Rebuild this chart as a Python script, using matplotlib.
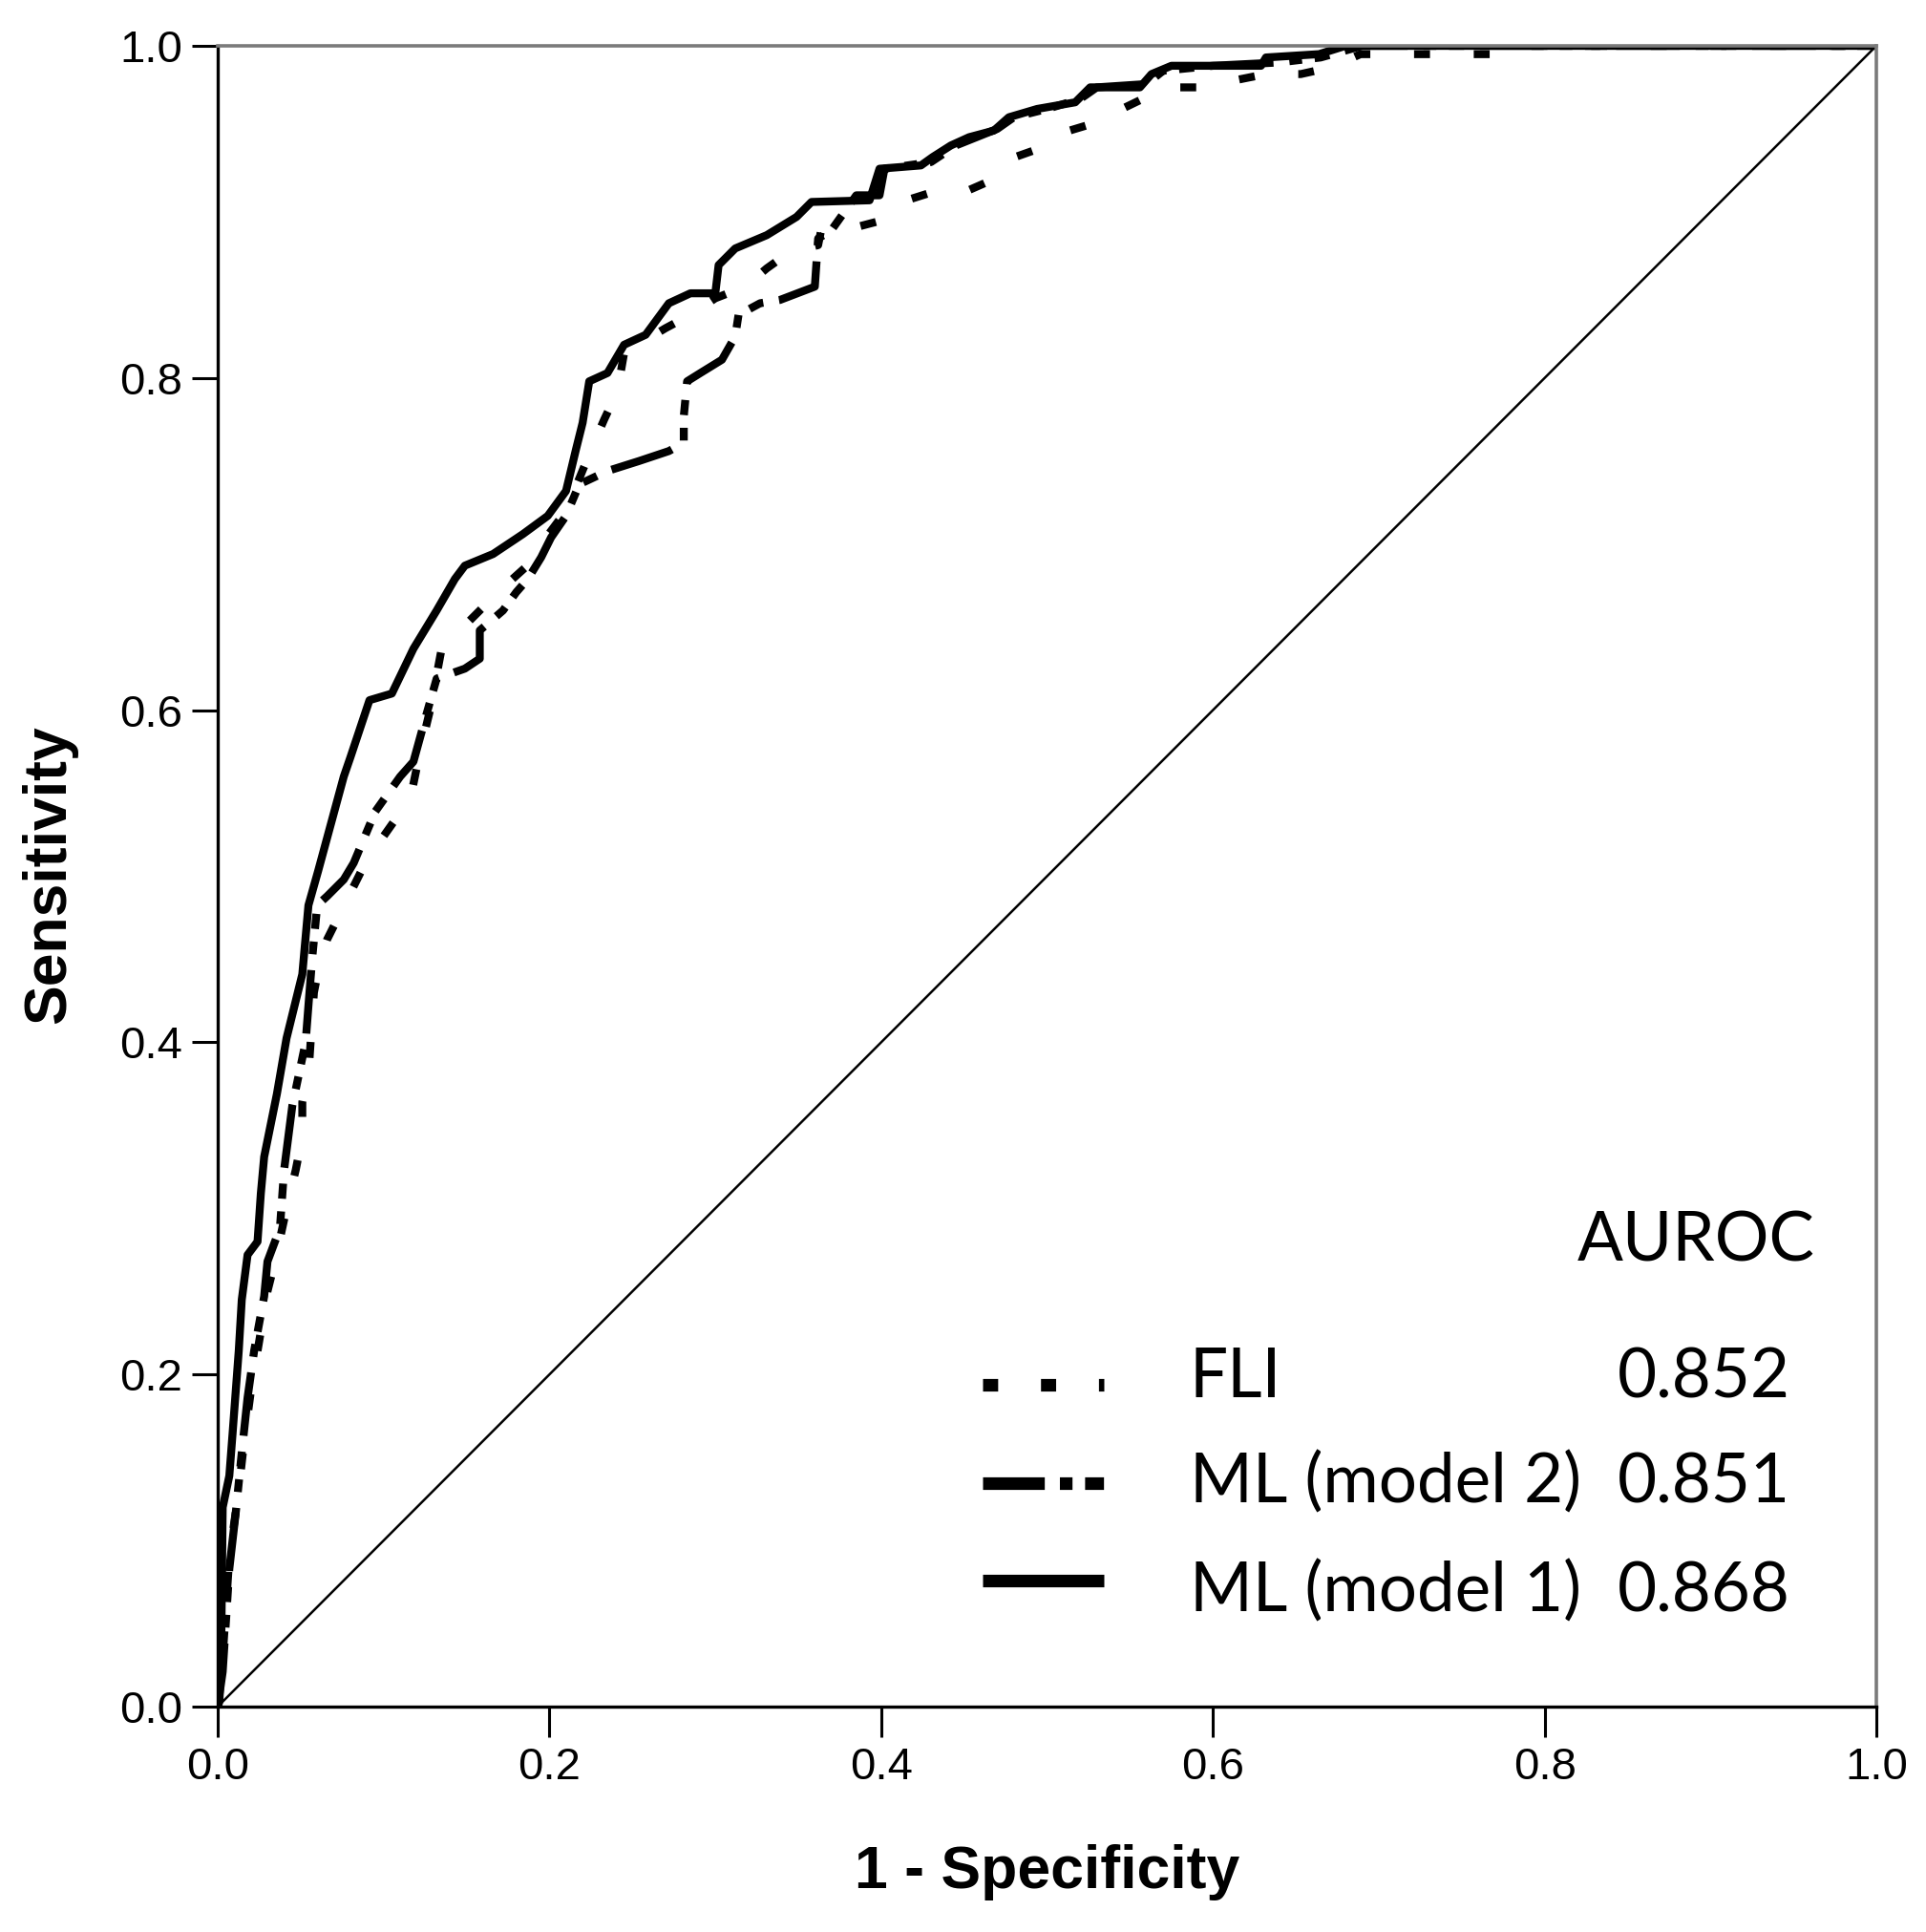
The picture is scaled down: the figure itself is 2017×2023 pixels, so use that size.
import matplotlib
matplotlib.use("Agg")
import matplotlib.pyplot as plt

# ---------------- data ----------------
m1_x = [0, 0.001, 0.002, 0.003, 0.007, 0.009, 0.0127, 0.0145, 0.018, 0.024, 0.026, 0.028,
        0.0357, 0.0415, 0.051, 0.0547, 0.0605, 0.076, 0.08, 0.0915, 0.105, 0.118, 0.132,
        0.143, 0.149, 0.166, 0.184, 0.199, 0.21, 0.216, 0.22, 0.224, 0.235, 0.245, 0.258,
        0.272, 0.285, 0.3, 0.302, 0.312, 0.331, 0.349, 0.358, 0.393, 0.399, 0.424, 0.431,
        0.442, 0.453, 0.468, 0.477, 0.494, 0.517, 0.526, 0.556, 0.563, 0.575, 0.629, 0.632,
        0.664, 0.68, 1.0]
m1_y = [0, 0.003, 0.024, 0.12, 0.139, 0.165, 0.2145, 0.245, 0.272, 0.28, 0.309, 0.331,
        0.369, 0.4025, 0.441, 0.4825, 0.503, 0.56, 0.5716, 0.606, 0.61, 0.637, 0.66,
        0.679, 0.687, 0.694, 0.706, 0.717, 0.732, 0.757, 0.773, 0.798, 0.803, 0.82, 0.826,
        0.845, 0.851, 0.851, 0.868, 0.878, 0.886, 0.897, 0.906, 0.907, 0.926, 0.928, 0.933,
        0.94, 0.945, 0.949, 0.957, 0.962, 0.966, 0.975, 0.975, 0.983, 0.988, 0.988, 0.993,
        0.995, 1.0, 1.0]

m2_x = [0, 0.003, 0.007, 0.011, 0.0145, 0.018, 0.022, 0.028, 0.03, 0.0375, 0.04, 0.045,
        0.053, 0.055, 0.057, 0.06, 0.066, 0.076, 0.082, 0.095, 0.11, 0.118, 0.126, 0.132,
        0.149, 0.158, 0.158, 0.172, 0.18, 0.187, 0.195, 0.201, 0.21, 0.218, 0.235, 0.254,
        0.272, 0.281, 0.281, 0.283, 0.291, 0.304, 0.312, 0.314, 0.327, 0.339, 0.36, 0.362,
        0.37, 0.385, 0.399, 0.402, 0.43, 0.445, 0.47, 0.48, 0.5, 0.52, 0.53, 0.56, 0.57,
        0.6, 0.64, 0.665, 0.69, 1.0]
m2_y = [0, 0.021, 0.083, 0.118, 0.153, 0.186, 0.2145, 0.247, 0.268, 0.288, 0.323, 0.362,
        0.40, 0.426, 0.451, 0.4825, 0.488, 0.498, 0.508, 0.539, 0.56, 0.569, 0.598, 0.619,
        0.625, 0.631, 0.648, 0.66, 0.671, 0.679, 0.692, 0.704, 0.717, 0.736, 0.744, 0.75,
        0.756, 0.761, 0.777, 0.798, 0.803, 0.811, 0.825, 0.838, 0.845, 0.847, 0.855, 0.884,
        0.889, 0.91, 0.91, 0.926, 0.93, 0.94, 0.95, 0.957, 0.962, 0.968, 0.975, 0.977, 0.985,
        0.988, 0.99, 0.993, 1.0, 1.0]

fli_x = [0, 0.003, 0.007, 0.012, 0.016, 0.02, 0.025, 0.03, 0.035, 0.0415, 0.047, 0.051,
         0.051, 0.055, 0.058, 0.062, 0.066, 0.075, 0.09, 0.107, 0.116, 0.122, 0.128, 0.135,
         0.146, 0.158, 0.17, 0.19, 0.195, 0.21, 0.226, 0.233, 0.241, 0.245, 0.27, 0.285,
         0.30, 0.318, 0.331, 0.345, 0.362, 0.364, 0.378, 0.397, 0.409, 0.428, 0.448, 0.464,
         0.475, 0.492, 0.507, 0.527, 0.541, 0.572, 0.594, 0.612, 0.632, 0.653, 0.671, 0.689,
         0.78, 0.79, 1.0]
fli_y = [0, 0.03, 0.09, 0.125, 0.16, 0.19, 0.22, 0.25, 0.27, 0.30, 0.323, 0.343,
         0.364, 0.385, 0.43, 0.45, 0.462, 0.48, 0.51, 0.534, 0.546, 0.575, 0.60, 0.637,
         0.648, 0.66, 0.672, 0.69, 0.70, 0.72, 0.759, 0.775, 0.792, 0.815, 0.83, 0.838,
         0.848, 0.855, 0.866, 0.876, 0.88, 0.89, 0.889, 0.894, 0.905, 0.911, 0.911, 0.918,
         0.931, 0.937, 0.947, 0.953, 0.96, 0.975, 0.975, 0.979, 0.983, 0.983, 0.987, 0.995,
         0.995, 1.0, 1.0]

ticks = [0.0, 0.2, 0.4, 0.6, 0.8, 1.0]
tick_labels = ["0.0", "0.2", "0.4", "0.6", "0.8", "1.0"]

legend_names = ["FLI", "ML (model 2)", "ML (model 1)"]
legend_auroc = ["0.852", "0.851", "0.868"]

# ---------------- figure ----------------
fig = plt.figure(figsize=(20.17, 20.23), dpi=100)
ax = fig.add_axes([228 / 2017, 1 - 1787 / 2023, (1965 - 228) / 2017, (1787 - 48) / 2023])

ax.plot([0, 1], [0, 1], color="black", lw=1.8)

ax.plot(fli_x, fli_y, color="black", lw=6, dashes=(2.0, 5.5), solid_capstyle="butt")
ax.plot(m2_x, m2_y, color="black", lw=6, dashes=(8.0, 2.0, 1.6, 1.6, 1.9, 2.0))
ax.plot(m1_x, m1_y, color="black", lw=6)

ax.set_xlim(0, 1)
ax.set_ylim(0, 1)

for s in ["left", "bottom"]:
    ax.spines[s].set_linewidth(2.4)
    ax.spines[s].set_color("black")
for s in ["top", "right"]:
    ax.spines[s].set_linewidth(2.6)
    ax.spines[s].set_color("#7a7a7a")

tick_font = {"family": ["Liberation Sans", "DejaVu Sans"], "size": 34}
ax.set_xticks(ticks)
ax.set_yticks(ticks)
ax.set_xticklabels(tick_labels, fontdict=tick_font)
ax.set_yticklabels(tick_labels, fontdict=tick_font)
ax.tick_params(axis="x", direction="out", length=23, width=2.2, pad=7)
ax.tick_params(axis="y", direction="out", length=19.5, width=2.2, pad=7)

label_font = {"family": ["Liberation Sans", "DejaVu Sans"], "size": 45, "weight": "bold"}
fig.text(0.5 * (228 + 1965) / 2017, 1 - 1961 / 2023, "1 - Specificity",
         ha="center", va="center", fontdict=label_font)
fig.text(52 / 2017, 1 - 916 / 2023, "Sensitivity", rotation=90,
         ha="center", va="center", fontdict=label_font)

# ---------------- legend (manual) ----------------
leg_font = {"family": ["Lato", "DejaVu Sans"], "size": 51}
ax.text(0.963, 0.2685, "AUROC", ha="right", va="baseline", fontdict=leg_font)
row_base = [0.1863, 0.123, 0.0575]
row_line = [0.194, 0.1345, 0.076]
styles = [dict(dashes=(1.2, 3.4)), dict(dashes=(4.9, 1.2, 1.0, 1.0, 1.5, 1.2)), dict()]
for name, val, yb, yl, st in zip(legend_names, legend_auroc, row_base, row_line, styles):
    ax.plot([0.461, 0.534], [yl, yl], color="black", lw=9.5, solid_capstyle="butt", **st)
    ax.text(0.586, yb, name, ha="left", va="baseline", fontdict=leg_font)
    ax.text(0.948, yb, val, ha="right", va="baseline", fontdict=leg_font)

fig.savefig("out.png", dpi=100, facecolor="white")
